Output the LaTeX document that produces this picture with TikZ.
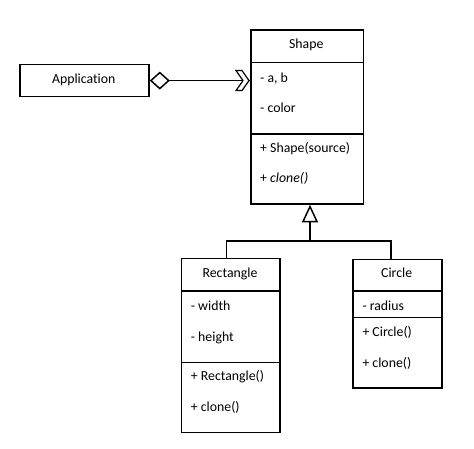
\documentclass[tikz,border=0pt]{standalone}
\usepackage{fontspec}
\setmainfont{Carlito}[Ligatures=NoCommon]
\usetikzlibrary{arrows.meta}
\begin{document}
\begin{tikzpicture}[x=1pt,y=-1pt,
  box/.style={draw=black,line width=1.5pt,fill=white,inner sep=0pt,anchor=north west},
  lbl/.style={inner sep=0pt,font=\fontsize{13.8}{15}\selectfont,text=black},
  conn/.style={draw=black,line width=1.5pt}]
\useasboundingbox[fill=white] (0,0) rectangle (474,449);
% Application
\node[box,minimum width=129.3pt,minimum height=31.7pt] (app) at (19,64) {};
\node[lbl,anchor=base] (appT) at (83.7,83.5) {Application};
% Shape class
\node[box,minimum width=112.7pt,minimum height=32.4pt] (shapeH) at (250,29.3) {};
\node[box,minimum width=112.7pt,minimum height=71.6pt] (shapeA) at (250,61.7) {};
\node[box,minimum width=112.7pt,minimum height=70pt] (shapeM) at (250,133.3) {};
\node[lbl,anchor=base] (shapeT) at (306.3,48.8) {Shape};
\node[lbl,anchor=base west] (shapeA1) at (260,82.8) {- a, b};
\node[lbl,anchor=base west] (shapeA2) at (260,112.8) {- color};
\node[lbl,anchor=base west] (shapeM1) at (260,152.2) {+ Shape(source)};
\node[lbl,anchor=base west] (shapeM2) at (260,182.8) {+ \textit{clone()}};
% Rectangle class
\node[box,minimum width=98.3pt,minimum height=32.3pt] (rectH) at (180.7,257.7) {};
\node[box,minimum width=98.3pt,minimum height=71.7pt] (rectA) at (180.7,290) {};
\node[box,minimum width=98.3pt,minimum height=70pt] (rectM) at (180.7,361.7) {};
\node[lbl,anchor=base] (rectT) at (230,277.8) {Rectangle};
\node[lbl,anchor=base west] (rectA1) at (190.7,310.5) {- width};
\node[lbl,anchor=base west] (rectA2) at (190.7,341.2) {- height};
\node[lbl,anchor=base west] (rectM1) at (190.7,380.2) {+ Rectangle()};
\node[lbl,anchor=base west] (rectM2) at (190.7,411.8) {+ clone()};
% Circle class
\node[box,minimum width=88.7pt,minimum height=31pt] (circH) at (352.3,259) {};
\node[box,minimum width=88.7pt,minimum height=26.7pt] (circA) at (352.3,290) {};
\node[box,minimum width=88.7pt,minimum height=70.6pt] (circM) at (352.3,316.7) {};
\node[lbl,anchor=base] (circT) at (396.7,277.8) {Circle};
\node[lbl,anchor=base west] (circA1) at (362.3,310.5) {- radius};
\node[lbl,anchor=base west] (circM1) at (362.3,336.8) {+ Circle()};
\node[lbl,anchor=base west] (circM2) at (362.3,367.2) {+ clone()};
% aggregation connector
\draw[conn,{Diamond[open,fill=white,length=20pt,width=18pt]}-] (app.east) -- (app.east -| shapeA.west);
\coordinate (tip) at (app.east -| shapeA.west);
\draw[line width=1.2pt,fill=white,line join=miter]
  ([shift={(-1,0)}]tip) -- ++(-7,-10) -- ++(-6,0) -- ++(7,10) -- ++(-7,10) -- ++(6,0) -- cycle;
% inheritance
\coordinate (bus) at (310,241);
\coordinate (jr) at (226.7,241);
\coordinate (jc) at (391,241);
\draw[conn] (rectH.north -| jr) -- (jr) -- (jc) -- (circH.north -| jc);
\draw[conn,-{Triangle[open,fill=white,length=17.5pt,width=16pt]}] (bus) -- (shapeM.south -| bus);
\end{tikzpicture}
\end{document}
